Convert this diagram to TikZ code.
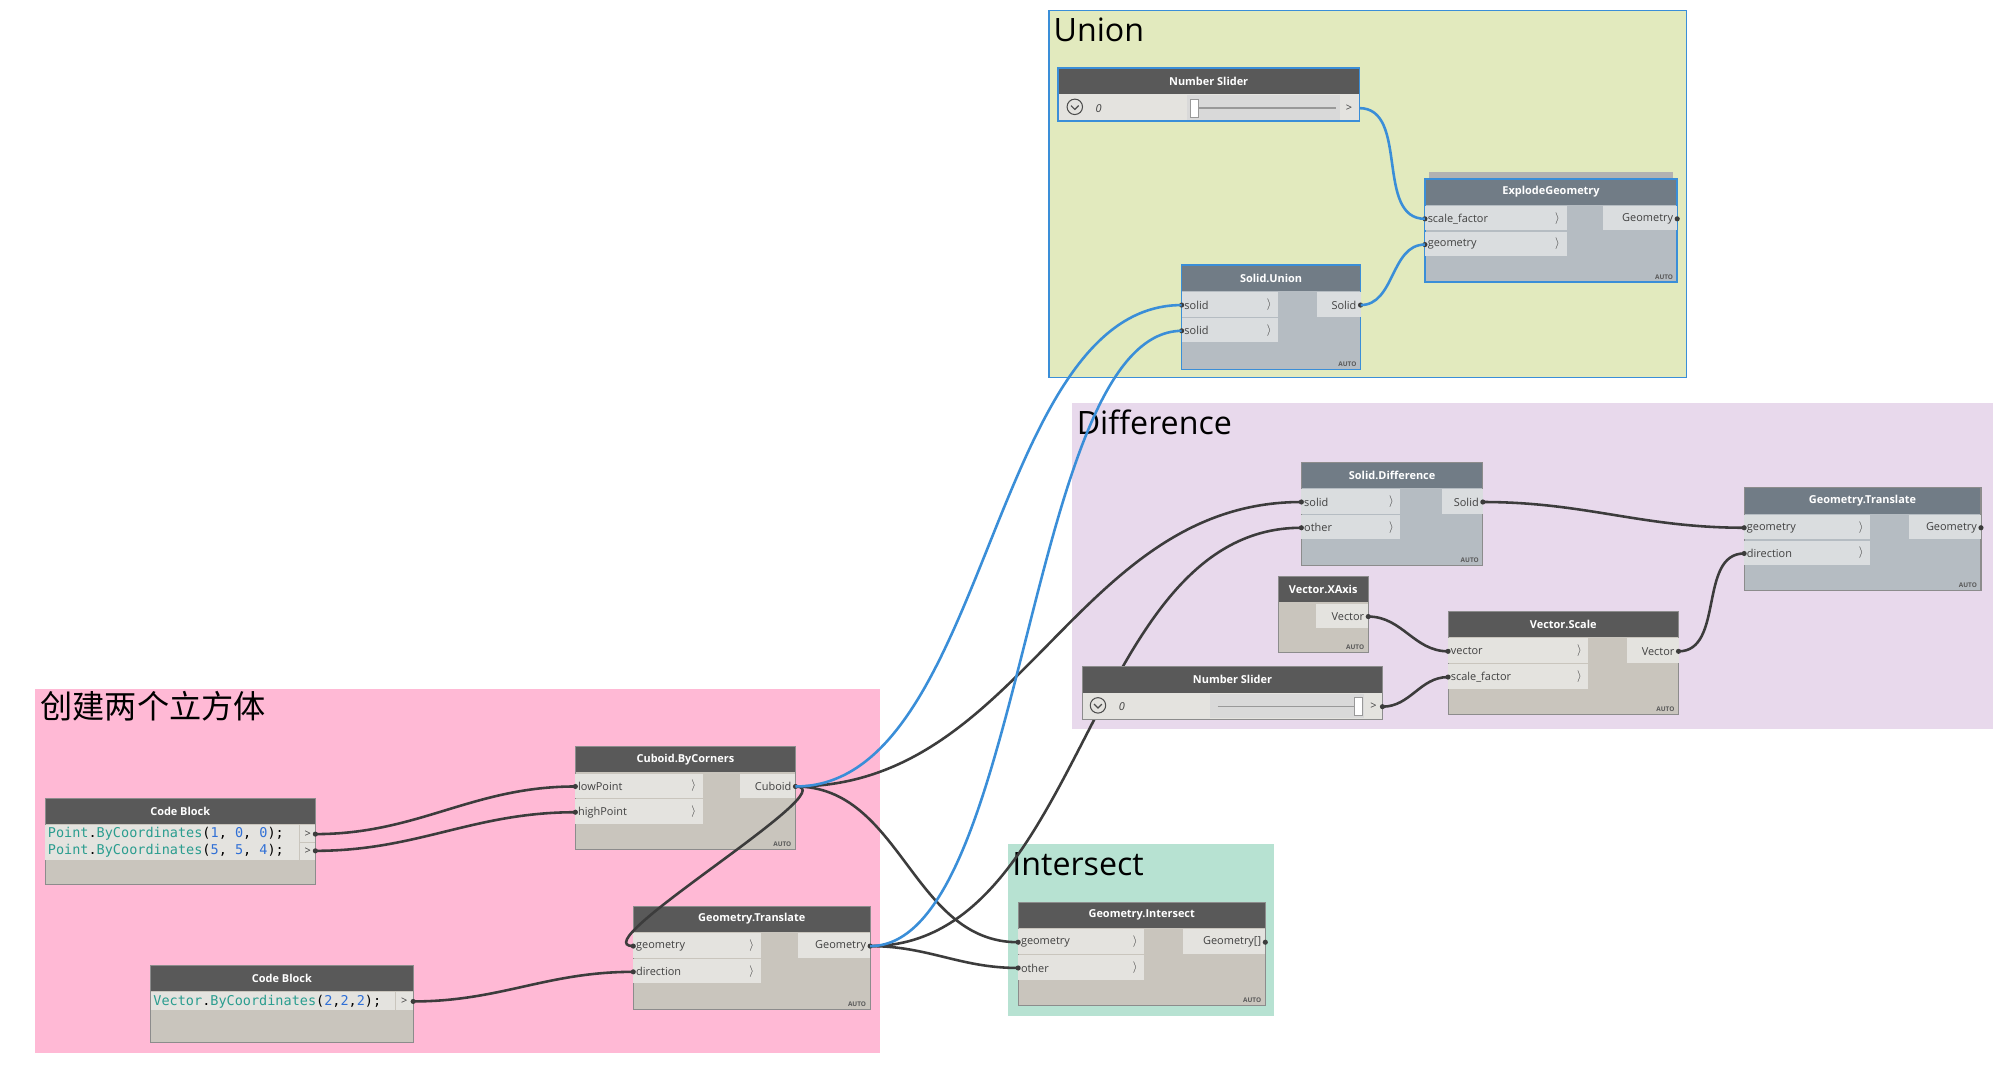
\documentclass[tikz,border=0pt]{standalone}
\usepackage{fontspec}
\setmainfont{Open Sans}
\newfontfamily\cjk{Noto Sans CJK SC}
\newfontfamily\mono{DejaVu Sans Mono}
\definecolor{hdark}{HTML}{595959}
\definecolor{bdark}{HTML}{C9C5BD}
\definecolor{hblue}{HTML}{717C86}
\definecolor{bblue}{HTML}{B5BCC2}
\definecolor{rowc}{HTML}{E4E3DF}
\definecolor{rowb}{HTML}{DADDDF}
\definecolor{wirec}{HTML}{3C3C3C}
\definecolor{wireb}{HTML}{3A8ED8}
\definecolor{gUnion}{HTML}{E2EABE}
\definecolor{gDiff}{HTML}{E8D9EC}
\definecolor{gPink}{HTML}{FFB9D5}
\definecolor{gInt}{HTML}{B7E2D2}
\definecolor{codeteal}{HTML}{2A9D8F}
\definecolor{codeblue}{HTML}{2F6FD6}
\newcommand\dynnode[8]{%
  \fill[#8] (#2,#3) rectangle (#2+#4,#3+#5);
  \fill[#7] (#2,#3) rectangle (#2+#4,#3+20);
  \node[hdr] (#1) at (#2+#4/2,#3+10) {#6};
  \draw[black!45,line width=0.8] (#2,#3) rectangle (#2+#4,#3+#5);}
\newcommand\autolab[2]{\node[autol,anchor=south east] at (#1-3,#2-2) {AUTO};}
\newcommand\inp[6]{%
  \fill[#6] (#2,#3) rectangle (#2+#4,#3+19);
  \node[port,anchor=west] at (#2+2,#3+10) {#5};
  \node[port,font=\bfseries\fontsize{9}{10}\selectfont] at (#2+#4-7,#3+9.5) {$\rangle$};
  \fill[wirec] (#2,#3+10) circle (2);
  \coordinate (#1) at (#2,#3+10);}
\newcommand\outp[6]{%
  \fill[#6] (#2-#4,#3) rectangle (#2,#3+19);
  \node[port,anchor=east] at (#2-3,#3+10) {#5};
  \fill[wirec] (#2,#3+10) circle (2);
  \coordinate (#1) at (#2,#3+10);}
\newcommand\gtitle[3]{\node[anchor=west,font=\fontsize{25}{28}\selectfont] at (#1,#2) {#3};}
\begin{document}
\begin{tikzpicture}[x=1pt,y=-1pt,
  hdr/.style={text=white,font=\bfseries\fontsize{8.5}{10}\selectfont,inner sep=0},
  port/.style={text=black!75,font=\fontsize{8.5}{10}\selectfont,inner sep=0},
  autol/.style={text=black!65,font=\bfseries\fontsize{5}{6}\selectfont,inner sep=0},
  code/.style={font=\mono\fontsize{10.5}{12}\selectfont,inner sep=0,anchor=west},
  wire/.style={wirec,line width=2},
  bwire/.style={wireb,line width=2}]
\useasboundingbox (0,0) rectangle (1560,839);
\fill[white] (0,0) rectangle (1560,839);
% groups
\fill[gUnion] (815,8) rectangle (1310,293);
\draw[wireb,line width=1] (815,8) rectangle (1310,293);
\gtitle{815}{23}{Union}
\fill[gDiff] (833,313) rectangle (1548,566);
\gtitle{833}{328}{Difference}
\fill[gPink] (27,535) rectangle (684,818);
\node[anchor=west,font=\cjk\fontsize{25}{28}\selectfont] at (28,549) {创建两个立方体};
\fill[gInt] (783,656) rectangle (990,789);
\gtitle{783}{671}{Intersect}

% ---- Union group nodes
\dynnode{ns1}{822}{53}{234}{41}{Number Slider}{hdark}{rowc}
\draw[wireb,line width=1.2] (822,53) rectangle (1056,94);
\draw[black!70,line width=0.8] (835,83) circle (6);
\draw[black!70,line width=0.9] (832,82) -- (835,85) -- (838,82);
\node[port,anchor=west,font=\itshape\fontsize{8.5}{10}\selectfont] at (851,84) {0};
\fill[white!85!black] (922,74) rectangle (1041,93);
\draw[black!40,line width=1.2] (926,84) -- (1038,84);
\fill[white] (925,77) rectangle (931,91);
\draw[black!40] (925,77) rectangle (931,91);
\node[port] at (1048,84) {>};
\fill[black!30] (1110,134) rectangle (1300,139);
\dynnode{eg}{1107}{139}{196}{80}{ExplodeGeometry}{hblue}{bblue}
\draw[wireb,line width=1.2] (1107,139) rectangle (1303,219);
\inp{egi1}{1107}{160}{110}{scale\_factor}{rowb}
\inp{egi2}{1107}{180}{110}{geometry}{rowb}
\outp{ego}{1303}{160}{58}{Geometry}{rowb}
\autolab{1303}{219}
\dynnode{su}{918}{206}{139}{81}{Solid.Union}{hblue}{bblue}
\draw[wireb,line width=1.2] (918,206) rectangle (1057,287);
\inp{sui1}{918}{227}{75}{solid}{rowb}
\inp{sui2}{918}{247}{75}{solid}{rowb}
\outp{suo}{1057}{227}{34}{Solid}{rowb}
\autolab{1057}{287}

% ---- Difference group nodes
\dynnode{sd}{1011}{359}{141}{80}{Solid.Difference}{hblue}{bblue}
\inp{sdi1}{1011}{380}{77}{solid}{rowb}
\inp{sdi2}{1011}{400}{77}{other}{rowb}
\outp{sdo}{1152}{380}{32}{Solid}{rowb}
\autolab{1152}{439}
\dynnode{gtd}{1355}{379}{184}{80}{Geometry.Translate}{hblue}{bblue}
\inp{gtdi1}{1355}{400}{98}{geometry}{rowb}
\inp{gtdi2}{1355}{420}{98}{direction}{rowb}
\outp{gtdo}{1539}{400}{56}{Geometry}{rowb}
\autolab{1539}{459}
\dynnode{vx}{993}{448}{70}{59}{Vector.XAxis}{hdark}{bdark}
\outp{vxo}{1063}{469}{41}{Vector}{rowc}
\autolab{1063}{507}
\dynnode{vs}{1125}{475}{179}{80}{Vector.Scale}{hdark}{bdark}
\inp{vsi1}{1125}{496}{109}{vector}{rowc}
\inp{vsi2}{1125}{516}{109}{scale\_factor}{rowc}
\outp{vso}{1304}{496}{40}{Vector}{rowc}
\autolab{1304}{555}

% ---- Pink group nodes
\dynnode{cb1}{35}{620}{210}{67}{Code Block}{hdark}{bdark}
\fill[rowc] (35,641) rectangle (232,668);
\fill[rowc] (233,641) rectangle (245,654);
\fill[rowc] (233,655) rectangle (245,668);
\node[code] at (37,648) {\color{codeteal}Point\color{black}.\color{codeteal}ByCoordinates\color{black}(\color{codeblue}1\color{black}, \color{codeblue}0\color{black}, \color{codeblue}0\color{black});};
\node[code] at (37,661) {\color{codeteal}Point\color{black}.\color{codeteal}ByCoordinates\color{black}(\color{codeblue}5\color{black}, \color{codeblue}5\color{black}, \color{codeblue}4\color{black});};
\node[port] at (239,648) {>};
\node[port] at (239,661) {>};
\fill[wirec] (245,648) circle (2);
\fill[wirec] (245,661) circle (2);
\coordinate (cb1o1) at (245,648);
\coordinate (cb1o2) at (245,661);
\dynnode{cc}{447}{580}{171}{80}{Cuboid.ByCorners}{hdark}{bdark}
\inp{cci1}{447}{601}{99}{lowPoint}{rowc}
\inp{cci2}{447}{621}{99}{highPoint}{rowc}
\outp{cco}{618}{601}{43}{Cuboid}{rowc}
\autolab{618}{660}
\dynnode{gtp}{492}{704}{184}{80}{Geometry.Translate}{hdark}{bdark}
\inp{gtpi1}{492}{725}{99}{geometry}{rowc}
\inp{gtpi2}{492}{745}{99}{direction}{rowc}
\outp{gtpo}{676}{725}{56}{Geometry}{rowc}
\autolab{676}{784}
\dynnode{cb2}{117}{750}{204}{60}{Code Block}{hdark}{bdark}
\fill[rowc] (117,771) rectangle (307,785);
\fill[rowc] (308,771) rectangle (321,785);
\node[code] at (119,778) {\color{codeteal}Vector\color{black}.\color{codeteal}ByCoordinates\color{black}(\color{codeblue}2\color{black},\color{codeblue}2\color{black},\color{codeblue}2\color{black});};
\node[port] at (314,778) {>};
\fill[wirec] (321,778) circle (2);
\coordinate (cb2o) at (321,778);

% ---- Intersect
\dynnode{gi}{791}{701}{192}{80}{Geometry.Intersect}{hdark}{bdark}
\inp{gii1}{791}{722}{98}{geometry}{rowc}
\inp{gii2}{791}{742}{98}{other}{rowc}
\outp{gio}{983}{722}{64}{Geometry[]}{rowc}
\autolab{983}{781}

% ---- wires
\draw[wire] (cb1o1) to[out=0,in=180] (cci1);
\draw[wire] (cb1o2) to[out=0,in=180] (cci2);
\draw[wire] (cco) .. controls (660,611) and (450,735) .. (gtpi1);
\draw[wire] (cco) to[out=0,in=180] (sdi1);
\draw[wire] (cco) to[out=0,in=180] (gii1);
\draw[wire] (gtpo) to[out=0,in=180] (gii2);
\draw[wire] (cb2o) to[out=0,in=180] (gtpi2);
\draw[wire] (gtpo) .. controls (843,735) and (843,410) .. (sdi2);
\draw[wire] (sdo) to[out=0,in=180] (gtdi1);
\draw[wire] (vso) to[out=0,in=180] (gtdi2);
\draw[wire] (vxo) to[out=0,in=180] (vsi1);
\coordinate (ns2o) at (1074,549);
\draw[bwire] (cco) .. controls (768,611) and (768,237) .. (sui1);
\draw[bwire] (gtpo) .. controls (797,735) and (797,258) .. (sui2);
\draw[bwire] (suo) to[out=0,in=180] (egi2);
\coordinate (ns1o) at (1056,84);
\draw[bwire] (ns1o) to[out=0,in=180] (egi1);

% second slider (drawn over wire)
\dynnode{ns2}{841}{518}{233}{41}{Number Slider}{hdark}{rowc}
\draw[black!70,line width=0.8] (853,548) circle (6);
\draw[black!70,line width=0.9] (850,547) -- (853,550) -- (856,547);
\node[port,anchor=west,font=\itshape\fontsize{8.5}{10}\selectfont] at (869,549) {0};
\fill[white!85!black] (940,539) rectangle (1060,558);
\draw[black!40,line width=1.2] (946,549) -- (1057,549);
\fill[white] (1052,542) rectangle (1058,556);
\draw[black!40] (1052,542) rectangle (1058,556);
\node[port] at (1067,549) {>};
\fill[wirec] (ns2o) circle (2);
\draw[wire] (ns2o) to[out=0,in=180] (vsi2);
\end{tikzpicture}
\end{document}
